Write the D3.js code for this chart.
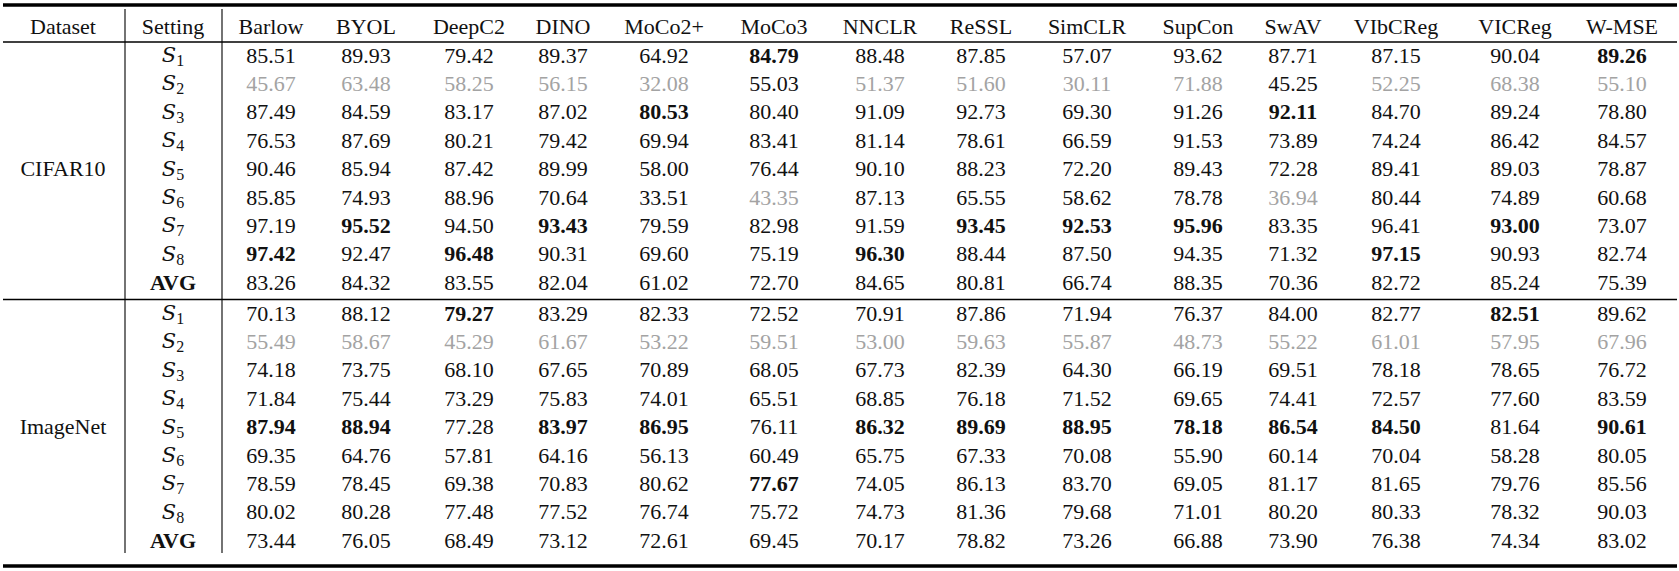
<!DOCTYPE html>
<html><head><meta charset="utf-8">
<script src="https://cdn.jsdelivr.net/npm/d3@7"></script>
<style>body{margin:0;background:#fff}svg{display:block}</style>
</head><body>
<svg id="c" width="1679" height="571"></svg>
<script>
const methods = ["Barlow","BYOL","DeepC2","DINO","MoCo2+","MoCo3","NNCLR","ReSSL","SimCLR","SupCon","SwAV","VIbCReg","VICReg","W-MSE"];
const datasets = ["CIFAR10","ImageNet"];
const settings = ["1","2","3","4","5","6","7","8","AVG"];
const cifar10 = [
 [85.51,89.93,79.42,89.37,64.92,84.79,88.48,87.85,57.07,93.62,87.71,87.15,90.04,89.26],
 [45.67,63.48,58.25,56.15,32.08,55.03,51.37,51.60,30.11,71.88,45.25,52.25,68.38,55.10],
 [87.49,84.59,83.17,87.02,80.53,80.40,91.09,92.73,69.30,91.26,92.11,84.70,89.24,78.80],
 [76.53,87.69,80.21,79.42,69.94,83.41,81.14,78.61,66.59,91.53,73.89,74.24,86.42,84.57],
 [90.46,85.94,87.42,89.99,58.00,76.44,90.10,88.23,72.20,89.43,72.28,89.41,89.03,78.87],
 [85.85,74.93,88.96,70.64,33.51,43.35,87.13,65.55,58.62,78.78,36.94,80.44,74.89,60.68],
 [97.19,95.52,94.50,93.43,79.59,82.98,91.59,93.45,92.53,95.96,83.35,96.41,93.00,73.07],
 [97.42,92.47,96.48,90.31,69.60,75.19,96.30,88.44,87.50,94.35,71.32,97.15,90.93,82.74],
 [83.26,84.32,83.55,82.04,61.02,72.70,84.65,80.81,66.74,88.35,70.36,82.72,85.24,75.39]
];
const cifar10Marks = [
 "....._.......b".replace("_","b"),
 "ggggg.gggg.ggg",
 "....b.....b...",
 "..............",
 "..............",
 ".....g....g...",
 ".b.b...bbb..b.",
 "b.b...b....b..",
 ".............."
];
const imagenet = [
 [70.13,88.12,79.27,83.29,82.33,72.52,70.91,87.86,71.94,76.37,84.00,82.77,82.51,89.62],
 [55.49,58.67,45.29,61.67,53.22,59.51,53.00,59.63,55.87,48.73,55.22,61.01,57.95,67.96],
 [74.18,73.75,68.10,67.65,70.89,68.05,67.73,82.39,64.30,66.19,69.51,78.18,78.65,76.72],
 [71.84,75.44,73.29,75.83,74.01,65.51,68.85,76.18,71.52,69.65,74.41,72.57,77.60,83.59],
 [87.94,88.94,77.28,83.97,86.95,76.11,86.32,89.69,88.95,78.18,86.54,84.50,81.64,90.61],
 [69.35,64.76,57.81,64.16,56.13,60.49,65.75,67.33,70.08,55.90,60.14,70.04,58.28,80.05],
 [78.59,78.45,69.38,70.83,80.62,77.67,74.05,86.13,83.70,69.05,81.17,81.65,79.76,85.56],
 [80.02,80.28,77.48,77.52,76.74,75.72,74.73,81.36,79.68,71.01,80.20,80.33,78.32,90.03],
 [73.44,76.05,68.49,73.12,72.61,69.45,70.17,78.82,73.26,66.88,73.90,76.38,74.34,83.02]
];
const imagenetMarks = [
 "..b.........b.",
 "gggggggggggggg",
 "..............",
 "..............",
 "bb.bb.bbbbbb.b",
 "..............",
 ".....b........",
 "..............",
 ".............."
];

// layout
const colCenters = [271,366,469,563,664,774,880,981,1087,1198,1293,1396,1515,1622];
const x = d3.scaleOrdinal().domain(methods).range(colCenters);
const svg = d3.select("#c");
const FONT = "'Liberation Serif','Times New Roman',serif";
const FS = 22;
const rowH = 28.4;
const headerY = 26, blockTop = [55, 313];
const xDataset = 63, xSetting = 173, vl1 = 125, vl2 = 222, L = 3, R = 1677;

function txt(xp, yp, s, opts={}) {
  return svg.append("text").attr("x", xp).attr("y", yp).attr("text-anchor","middle")
    .attr("dominant-baseline","central").attr("font-family",FONT).attr("font-size",FS)
    .attr("font-weight", opts.bold?"bold":"normal").attr("fill", opts.fill||"#111").text(s);
}
// rules
const line = (x1,y1,x2,y2,w) => svg.append("line").attr("x1",x1).attr("x2",x2).attr("y1",y1).attr("y2",y2).attr("stroke","#000").attr("stroke-width",w);
line(L,5,R,5,3.5);
line(L,42,R,42,1.3);
line(L,299.5,R,299.5,1.3);
line(L,566,R,566,3.5);
line(vl1,9,vl1,553,1.1);
line(vl2,9,vl2,553,1.1);

// header
txt(xDataset, headerY, "Dataset");
txt(xSetting, headerY, "Setting");
methods.forEach(m => txt(x(m), headerY, m));

[[cifar10,cifar10Marks],[imagenet,imagenetMarks]].forEach(([vals,marks],bi) => {
  const y = d3.scaleLinear().domain([0,1]).range([blockTop[bi], blockTop[bi]+rowH]);
  txt(xDataset, y(4), datasets[bi]);
  settings.forEach((s,ri) => {
    if (s === "AVG") { txt(xSetting, y(ri), "AVG", {bold:true}); }
    else {
      const t = svg.append("text").attr("x", xSetting).attr("y", y(ri)).attr("text-anchor","middle")
        .attr("dominant-baseline","central").attr("font-family",FONT).attr("font-size",FS).attr("fill","#111");
      t.append("tspan").attr("font-style","italic").attr("font-family","'DejaVu Serif',serif").attr("font-size",21).text("S");
      t.append("tspan").attr("font-size",16).attr("dy",5).text(s);
    }
    vals[ri].forEach((v,ci) => {
      const mk = marks[ri][ci];
      txt(x(methods[ci]), y(ri), v.toFixed(2), {bold: mk==="b", fill: mk==="g" ? "#a3a3a3" : "#111"});
    });
  });
});
</script>
</body></html>
